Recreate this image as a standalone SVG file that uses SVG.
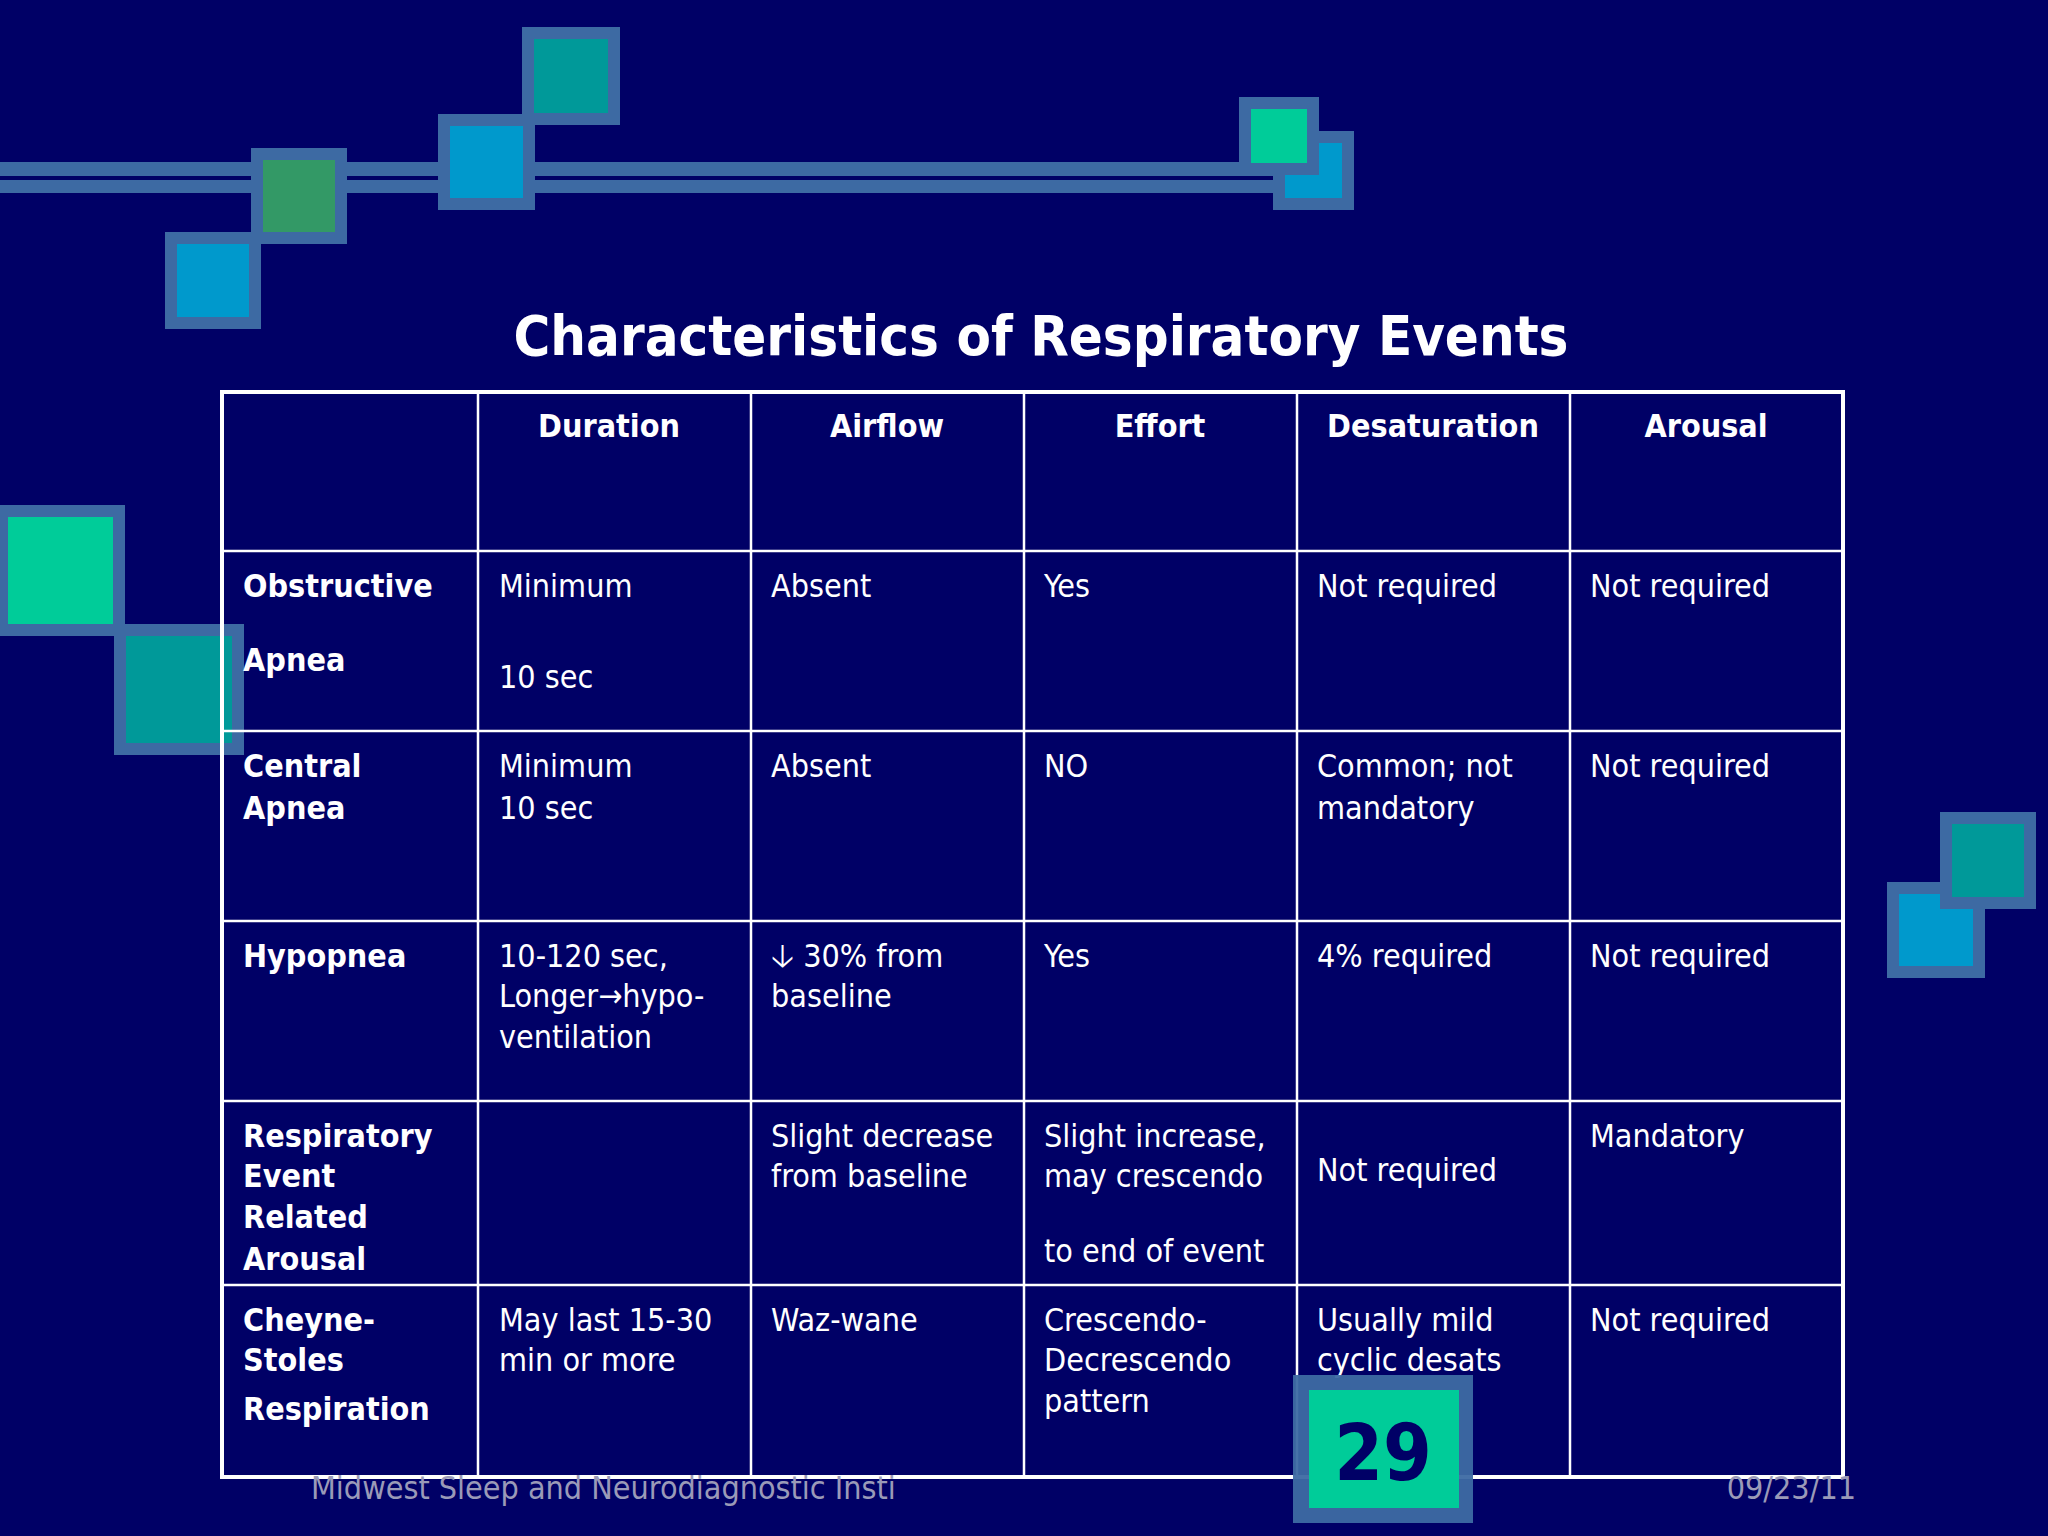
<svg xmlns="http://www.w3.org/2000/svg" width="2048" height="1536" viewBox="0 0 2048 1536">
<style>
.b{fill:#3d6aa3}
.t{font-family:"DejaVu Sans Condensed","DejaVu Sans",sans-serif;font-size:32px;fill:#fff}
.h{font-family:"DejaVu Sans Condensed","DejaVu Sans",sans-serif;font-size:32px;font-weight:bold;fill:#fff}
.hc{text-anchor:middle}
.f{font-family:"DejaVu Sans Condensed","DejaVu Sans",sans-serif;font-size:32px;fill:#9a9ab8}
.g line{stroke:#fff;stroke-width:2.5}
</style>
<rect width="2048" height="1536" fill="#000066"/>
<g id="deco">
<rect class="b" x="0" y="162" width="1290" height="14"/>
<rect class="b" x="0" y="180" width="1290" height="13"/>
<rect class="b" x="165" y="232" width="96" height="97"/><rect x="177" y="244" width="72" height="73" fill="#0099cc"/>
<rect class="b" x="251" y="148" width="96" height="96"/><rect x="263" y="160" width="72" height="72" fill="#339966"/>
<rect class="b" x="438" y="114" width="97" height="96"/><rect x="450" y="126" width="73" height="72" fill="#0099cc"/>
<rect class="b" x="522" y="27" width="98" height="98"/><rect x="534" y="39" width="74" height="74" fill="#009999"/>
<rect class="b" x="1273" y="131" width="81" height="79"/><rect x="1285" y="143" width="57" height="55" fill="#0099cc"/>
<rect class="b" x="1239" y="97" width="80" height="78"/><rect x="1251" y="109" width="56" height="54" fill="#00cc99"/>
<rect class="b" x="0" y="505" width="125" height="131"/><rect x="8" y="517" width="105" height="107" fill="#00cc99"/>
<rect class="b" x="114" y="624" width="130" height="131"/><rect x="126" y="636" width="106" height="107" fill="#009999"/>
<rect class="b" x="1887" y="882" width="98" height="96"/><rect x="1899" y="894" width="74" height="72" fill="#0099cc"/>
<rect class="b" x="1940" y="812" width="96" height="97"/><rect x="1952" y="824" width="72" height="73" fill="#009999"/>
</g>
<text x="1041" y="355" text-anchor="middle" font-family="'DejaVu Sans',sans-serif" font-weight="bold" font-size="56" fill="#fff" textLength="1055" lengthAdjust="spacingAndGlyphs">Characteristics of Respiratory Events</text>
<g id="table" class="g">
<rect x="222" y="392" width="1621" height="1085" fill="none" stroke="#fff" stroke-width="4"/>
<line x1="478" y1="392" x2="478" y2="1477"/><line x1="751" y1="392" x2="751" y2="1477"/><line x1="1024" y1="392" x2="1024" y2="1477"/><line x1="1297" y1="392" x2="1297" y2="1477"/><line x1="1570" y1="392" x2="1570" y2="1477"/>
<line x1="222" y1="551" x2="1843" y2="551"/><line x1="222" y1="731" x2="1843" y2="731"/><line x1="222" y1="921" x2="1843" y2="921"/><line x1="222" y1="1101" x2="1843" y2="1101"/><line x1="222" y1="1285" x2="1843" y2="1285"/>
</g>
<g id="cells">
<text class="h hc" x="609" y="437">Duration</text>
<text class="h hc" x="887" y="437">Airflow</text>
<text class="h hc" x="1160" y="437">Effort</text>
<text class="h hc" x="1433" y="437">Desaturation</text>
<text class="h hc" x="1706" y="437">Arousal</text>
<text class="h" x="243" y="597">Obstructive</text><text class="h" x="243" y="671">Apnea</text>
<text class="t" x="499" y="597">Minimum</text><text class="t" x="499" y="688">10 sec</text>
<text class="t" x="771" y="597">Absent</text><text class="t" x="1044" y="597">Yes</text>
<text class="t" x="1317" y="597">Not required</text><text class="t" x="1590" y="597">Not required</text>
<text class="h" x="243" y="777">Central</text><text class="h" x="243" y="819">Apnea</text>
<text class="t" x="499" y="777">Minimum</text><text class="t" x="499" y="819">10 sec</text>
<text class="t" x="771" y="777">Absent</text><text class="t" x="1044" y="777">NO</text>
<text class="t" x="1317" y="777">Common; not</text><text class="t" x="1317" y="819">mandatory</text>
<text class="t" x="1590" y="777">Not required</text>
<text class="h" x="243" y="967">Hypopnea</text>
<text class="t" x="499" y="967">10-120 sec,</text><text class="t" x="499" y="1007">Longer→hypo-</text><text class="t" x="499" y="1048">ventilation</text>
<text class="t" x="771" y="967">🡣 30% from</text><text class="t" x="771" y="1007">baseline</text>
<text class="t" x="1044" y="967">Yes</text><text class="t" x="1317" y="967">4% required</text><text class="t" x="1590" y="967">Not required</text>
<text class="h" x="243" y="1147">Respiratory</text><text class="h" x="243" y="1187">Event</text><text class="h" x="243" y="1228">Related</text><text class="h" x="243" y="1270">Arousal</text>
<text class="t" x="771" y="1147">Slight decrease</text><text class="t" x="771" y="1187">from baseline</text>
<text class="t" x="1044" y="1147">Slight increase,</text><text class="t" x="1044" y="1187">may crescendo</text><text class="t" x="1044" y="1262">to end of event</text>
<text class="t" x="1317" y="1181">Not required</text><text class="t" x="1590" y="1147">Mandatory</text>
<text class="h" x="243" y="1331">Cheyne-</text><text class="h" x="243" y="1371">Stoles</text><text class="h" x="243" y="1420">Respiration</text>
<text class="t" x="499" y="1331">May last 15-30</text><text class="t" x="499" y="1371">min or more</text>
<text class="t" x="771" y="1331">Waz-wane</text>
<text class="t" x="1044" y="1331">Crescendo-</text><text class="t" x="1044" y="1371">Decrescendo</text><text class="t" x="1044" y="1412">pattern</text>
<text class="t" x="1317" y="1331">Usually mild</text><text class="t" x="1317" y="1371">cyclic desats</text>
<text class="t" x="1590" y="1331">Not required</text>
</g>
<text class="f" x="311" y="1499">Midwest Sleep and Neurodiagnostic Insti</text>
<text class="f" x="1856" y="1499" text-anchor="end">09/23/11</text>
<g id="slidenum">
<rect class="b" x="1293" y="1375" width="180" height="148" opacity="0.95"/>
<rect x="1309" y="1390" width="150" height="118" fill="#00cc99"/>
<text x="1383" y="1480" text-anchor="middle" font-family="'DejaVu Sans Condensed',sans-serif" font-weight="bold" font-size="78" fill="#000066">29</text>
</g>
</svg>
